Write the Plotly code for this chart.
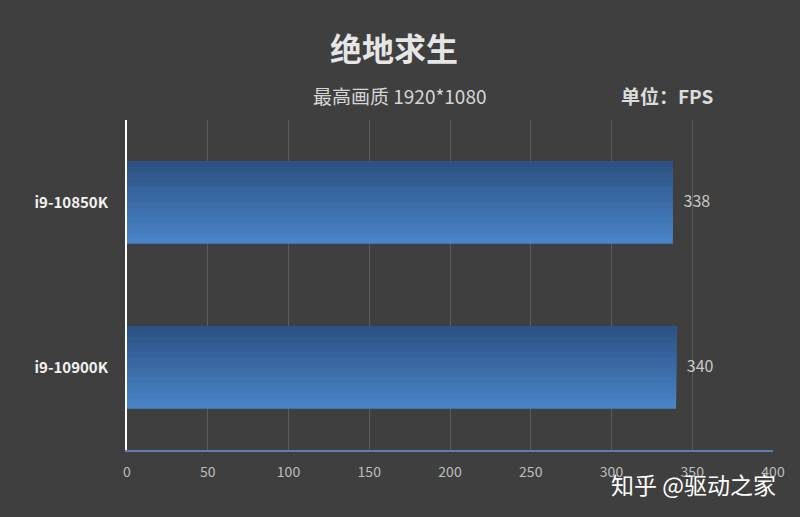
import plotly.graph_objects as go

categories = ["i9-10900K", "i9-10850K"]
fps_values = [340, 338]
x_ticks = [0, 50, 100, 150, 200, 250, 300, 350, 400]

title_text = "绝地求生"
subtitle_text = "最高画质 1920*1080"
unit_text = "单位：FPS"
watermark_text = "知乎 @驱动之家"

BG = "#3f3f3f"
FONT = "Noto Sans CJK SC"

# gradient: light at bottom -> dark at top
light = (74, 132, 200)
dark = (44, 82, 132)
N = 16
W = 0.5

fig = go.Figure()
for k in range(N):
    t = k / (N - 1)
    c = tuple(int(round(light[i] + (dark[i] - light[i]) * t)) for i in range(3))
    w = W * (1 - k / N)
    fig.add_trace(go.Bar(
        y=categories, x=fps_values, orientation="h",
        width=w, offset=W / 2 - w,
        marker=dict(color="rgb(%d,%d,%d)" % c, line=dict(width=0)),
        hoverinfo="skip", showlegend=False,
        cliponaxis=False,
    ))

# value labels
fig.add_trace(go.Scatter(
    y=categories, x=fps_values, mode="text",
    text=[str(v) for v in fps_values], textposition="middle right",
    texttemplate="   %{text}",
    textfont=dict(color="#c8c8c8", size=16, family=FONT),
    hoverinfo="skip", showlegend=False, cliponaxis=False,
))

fig.update_layout(
    width=800, height=517,
    paper_bgcolor=BG, plot_bgcolor=BG,
    barmode="overlay",
    margin=dict(l=127, r=27, t=120, b=67),
    font=dict(family=FONT, color="#c0c0c0"),
    xaxis=dict(
        range=[0, 400], tickvals=x_ticks, showgrid=True, gridcolor="#5c5c5c", gridwidth=1,
        zeroline=False, showline=True, linecolor="#5b7fb3", linewidth=2,
        ticks="outside", ticklen=8, tickcolor=BG,
        tickfont=dict(size=14, color="#bdbdbd", family=FONT),
        fixedrange=True,
    ),
    yaxis=dict(
        categoryorder="array", categoryarray=categories, range=[-0.5, 1.5],
        showgrid=False, zeroline=False, showline=True, linecolor="#ffffff", linewidth=2,
        ticks="outside", ticklen=14, tickcolor=BG,
        tickfont=dict(size=15, color="#f2f2f2", family=FONT, weight="bold"),
        fixedrange=True,
    ),
    annotations=[
        dict(text="<b>" + title_text + "</b>", x=394, y=47,
             font=dict(size=32, color="#e6e6e6", family=FONT)),
        dict(text=subtitle_text, x=400, y=95,
             font=dict(size=19, color="#d6d6d6", family=FONT)),
        dict(text="<b>" + unit_text + "</b>", x=667, y=95,
             font=dict(size=19, color="#dcdcdc", family=FONT)),
        dict(text=watermark_text, x=693, y=484,
             font=dict(size=23, color="#ffffff", family=FONT)),
    ],
)

# convert pixel positions of annotations to paper coordinates
pw, ph = 800 - 127 - 27, 517 - 120 - 67
for a in fig.layout.annotations:
    a.x = (a.x - 127) / pw
    a.y = (517 - 67 - a.y) / ph
    a.xref = "paper"
    a.yref = "paper"
    a.xanchor = "center"
    a.yanchor = "middle"
    a.showarrow = False

fig.write_html("out.html", config={"displayModeBar": False})

with open("out.html", "r", encoding="utf-8") as f:
    html = f.read()
html = html.replace("<body>", '<body style="margin:0;overflow:hidden">', 1)
with open("out.html", "w", encoding="utf-8") as f:
    f.write(html)
